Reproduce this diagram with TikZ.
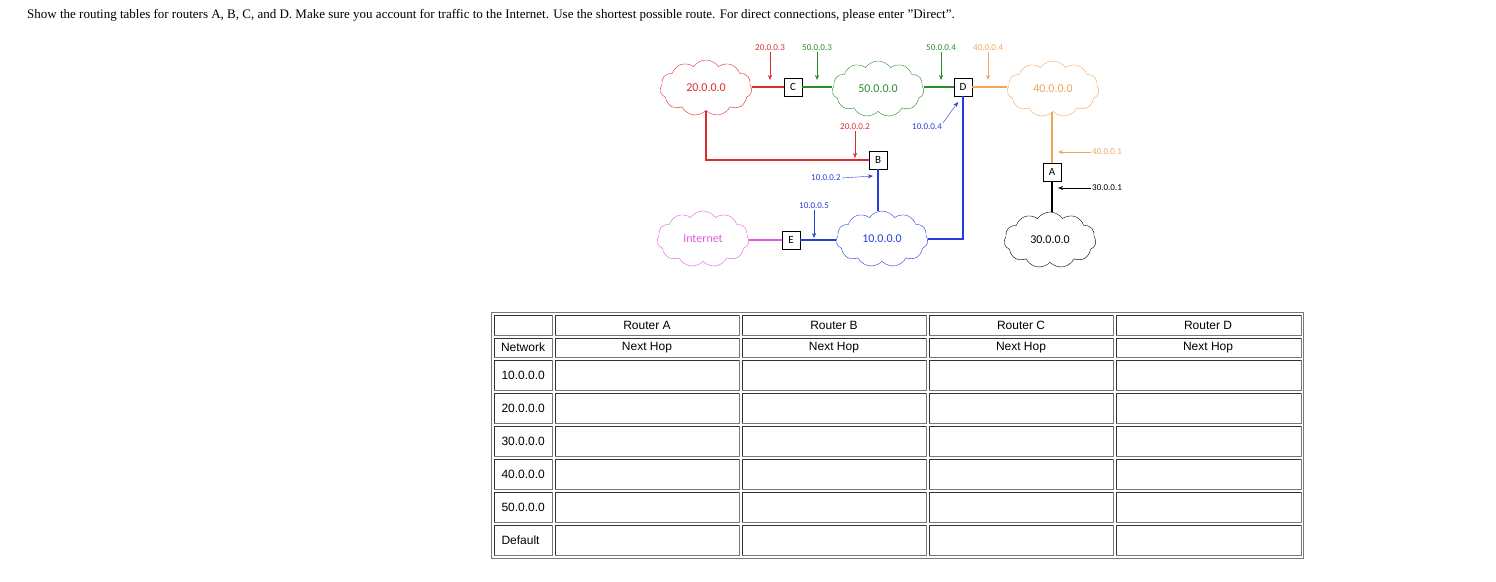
\documentclass[tikz,border=0pt]{standalone}
\usepackage{fontspec}
\setmainfont{Liberation Serif}
\newfontfamily\calfnt{Carlito}
\newfontfamily\arsfnt{Liberation Sans}
\usetikzlibrary{shapes.symbols,arrows.meta}
\definecolor{colRed}{RGB}{220,45,45}
\definecolor{colGreen}{RGB}{40,140,40}
\definecolor{colOrange}{RGB}{240,165,90}
\definecolor{colBlue}{RGB}{40,60,220}
\definecolor{colMag}{RGB}{225,90,225}
\definecolor{tg}{RGB}{120,120,120}
\tikzset{
 cl/.style={cloud,cloud puffs=11,cloud puff arc=110,aspect=1.8,draw,minimum width=92pt,minimum height=56pt,font=\calfnt\fontsize{12}{12}\selectfont,inner sep=0pt},
 rt/.style={draw,thick,minimum width=18pt,minimum height=18pt,inner sep=0pt,font=\calfnt\fontsize{11}{11}\selectfont,fill=white},
 lab/.style={font=\calfnt\fontsize{9}{9}\selectfont,inner sep=1pt},
 ar/.style={-{Stealth[length=5pt,width=4pt]}},
 ln/.style={line width=1.3pt},
 tx/.style={font=\arsfnt\fontsize{12}{12}\selectfont}
}
\begin{document}
\begin{tikzpicture}[x=1pt,y=-1pt]
\useasboundingbox (0,0) rectangle (1496,581);
\node[anchor=west,font=\fontsize{13}{13}\selectfont,inner sep=0pt] (title) at (27,15) {Show the routing tables for routers A, B, C, and D. Make sure you account for traffic to the Internet. Use the shortest possible route. For direct connections, please enter "Direct".};
% clouds
\node[cl,draw=colRed,text=colRed] (n20) at (706,88) {20.0.0.0};
\node[cl,draw=colGreen,text=colGreen] (n50) at (878,89) {50.0.0.0};
\node[cl,draw=colOrange,text=colOrange] (n40) at (1053,89) {40.0.0.0};
\node[cl,draw=colMag,text=colMag] (inet) at (703,239) {Internet};
\node[cl,draw=colBlue,text=colBlue] (n10) at (882,239) {10.0.0.0};
\node[cl,draw=black,text=black] (n30) at (1050,240) {30.0.0.0};
% routers
\node[rt] (C) at (793,87) {C};
\node[rt] (D) at (963,87) {D};
\node[rt] (B) at (878,160) {B};
\node[rt] (A) at (1052,172) {A};
\node[rt] (E) at (791,240) {E};
% links
\draw[ln,colRed] (n20.east|-C) -- (C);
\draw[ln,colGreen] (C) -- (n50.west|-C);
\draw[ln,colGreen] (n50.east|-D) -- (D);
\draw[ln,colOrange] (D) -- (n40.west|-D);
\draw[ln,colOrange] (n40.south-|A) -- (A);
\draw[ln,black] (A) -- (n30.north-|A);
\draw[ln,colRed] (n20.south) |- (B);
\draw[ln,colBlue] (B) -- (n10.north-|B);
\draw[ln,colMag] (inet.east|-E) -- (E);
\draw[ln,colBlue] (E) -- (n10.west|-E);
\draw[ln,colBlue] (n10.east) -| (D);
% address labels
\node[lab,text=colRed] (l1) at (770,48) {20.0.0.3};
\node[lab,text=colGreen] (l2) at (817,48) {50.0.0.3};
\node[lab,text=colGreen] (l3) at (941,48) {50.0.0.4};
\node[lab,text=colOrange] (l4) at (988,48) {40.0.0.4};
\node[lab,text=colRed] (l5) at (855,127) {20.0.0.2};
\node[lab,text=colBlue] (l6) at (927,127) {10.0.0.4};
\node[lab,text=colBlue,anchor=east] (l7) at (842,178) {10.0.0.2};
\node[lab,text=colBlue] (l8) at (814,206) {10.0.0.5};
\node[lab,text=colOrange,anchor=west] (l9) at (1091,152) {40.0.0.1};
\node[lab,text=black,anchor=west] (l10) at (1091,188) {30.0.0.1};
\coordinate (t1) at (770,80); \coordinate (t2) at (817,80);
\coordinate (t3) at (941,80); \coordinate (t4) at (988,80);
\coordinate (t5) at (855,158); \coordinate (t6) at (958,102);
\coordinate (t7) at (873,176); \coordinate (t8) at (814,238);
\coordinate (t9) at (1058,152); \coordinate (t10) at (1058,188);
\draw[ar,colRed] (l1.south) -- (t1);
\draw[ar,colGreen] (l2.south) -- (t2);
\draw[ar,colGreen] (l3.south) -- (t3);
\draw[ar,colOrange] (l4.south) -- (t4);
\draw[ar,colRed] (l5.south) -- (t5);
\draw[ar,colBlue] (l6.north east) -- (t6);
\draw[ar,colBlue] (l7.east) -- (t7);
\draw[ar,colBlue] (l8.south) -- (t8);
\draw[ar,colOrange] (l9.west) -- (t9);
\draw[ar,black] (l10.west) -- (t10);
% table
\draw[tg,line width=1.5pt] (491.5,312.5) rectangle (1303.5,558.5);
\foreach \xa/\xb in {494/552,555/739,742/926,929/1113,1116/1301}{
  \foreach \ya/\yb in {315/335,338/357,360/390,393/423,426/456,459/489,492/522,525/555}{
    \draw[tg,line width=0.8pt] (\xa,\ya) rectangle (\xb,\yb);
    \draw[black!80,line width=0.6pt] (\xa,\yb) -- (\xa,\ya) -- (\xb,\ya);
  }
}
\foreach \t [count=\i] in {A,B,C,D}{
  \node[tx] (r\i) at ({460+\i*187},325) {Router \t};
  \node[tx] (h\i) at ({460+\i*187},347.5) {Next Hop};
}
\node[tx] (nw) at (523,347.5) {Network};
\foreach \t/\y in {10.0.0.0/375,20.0.0.0/408,30.0.0.0/441,40.0.0.0/474,50.0.0.0/507,Default/540}{
  \node[tx,anchor=west] (k\y) at (498,\y) {\t};
}
\end{tikzpicture}
\end{document}
